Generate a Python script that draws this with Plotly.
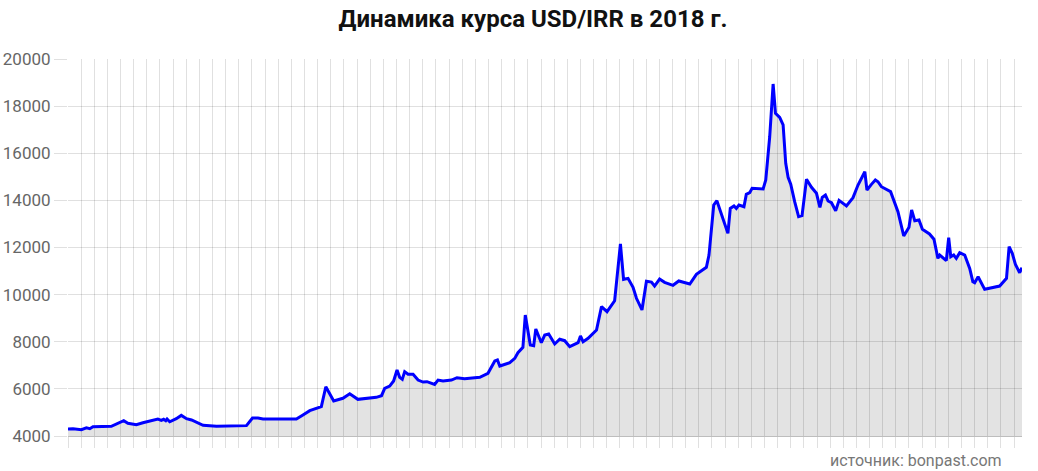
import plotly.graph_objects as go

# Day index within the period (grid every 5 days) and USD/IRR rate
days = [0, 1.9, 5.1, 7.0, 8.3, 9.5, 16.5, 19.0, 21.2, 22.8, 26.0, 28.5, 32.3, 34.2, 35.5, 36.4, 37.2, 37.7,
        38.7, 41.2, 43.1, 45.1, 47.0, 51.4, 56.5, 67.9, 70.2, 72.3, 74.2, 86.9, 89.4, 92.0, 96.4, 98.1,
        101.1, 104.6, 107.2, 110.3, 117.3, 119.3, 120.5, 122.4, 123.9, 125.2, 126.2, 127.2, 128.1, 129.4,
        131.3, 133.2, 135.1, 136.6, 139.5, 140.8, 142.7, 145.9, 148.0, 150.9, 156.7, 159.8, 162.4, 163.4,
        164.3, 168.1, 170.0, 171.2, 173.1, 174.0, 175.9, 177.2, 178.0, 180.1, 181.4, 182.9, 185.2, 187.1,
        189.0, 190.9, 194.1, 195.0, 196.0, 197.9, 201.1, 203.0, 205.1, 208.0, 210.2, 211.4, 213.1, 215.0,
        216.3, 218.4, 220.1, 222.0, 223.2, 225.1, 227.0, 230.2, 232.4, 236.6, 239.1, 242.9, 243.9, 245.7,
        246.9, 251.1, 252.0, 253.4, 254.3, 255.3, 257.2, 258.1, 259.4, 260.3, 264.5, 265.5, 267.0, 268.3,
        269.2, 270.8, 272.1, 273.1, 274.0, 275.0, 276.5, 278.0, 279.3, 281.0, 282.9, 284.8, 286.1, 287.0,
        288.2, 289.2, 290.5, 292.1, 293.4, 296.2, 298.7, 300.6, 303.2, 304.0, 305.7, 307.2, 308.2, 309.5,
        313.0, 314.3, 315.8, 318.0, 320.0, 321.0, 322.2, 323.8, 325.1, 327.8, 329.5, 331.0, 331.7, 334.2,
        335.1, 335.9, 337.0, 338.0, 339.3, 341.2, 343.1, 344.3, 345.0, 346.3, 348.8, 354.5, 357.1, 358.1,
        359.3, 360.5, 362.1, 363.0]
rates = [4300, 4310, 4270, 4350, 4310, 4395, 4410, 4520, 4650, 4540, 4480, 4565, 4650, 4720, 4665, 4710, 4650, 4720,
         4605, 4735, 4875, 4735, 4680, 4455, 4410, 4440, 4765, 4765, 4720, 4720, 4890, 5075, 5245, 6090,
         5485, 5600, 5790, 5555, 5640, 5710, 6025, 6120, 6335, 6800, 6490, 6405, 6730, 6620,
         6620, 6375, 6290, 6305, 6190, 6375, 6335, 6375, 6475, 6430, 6490, 6660, 7185, 7225,
         6970, 7110, 7295, 7535, 7765, 9135, 7860, 7830, 8540, 7960, 8285, 8330, 7905, 8105,
         8045, 7790, 7960, 8245, 8000, 8145, 8500, 9490, 9275, 9740, 12150, 10650, 10690, 10310,
         9845, 9350, 10570, 10535, 10365, 10660, 10520, 10395, 10580, 10450, 10860, 11160, 11680, 13800,
         13985, 12600, 13660, 13760, 13660, 13800, 13730, 14255, 14325, 14510, 14485, 14865, 16700, 18940,
         17695, 17520, 17200, 15575, 14980, 14685, 13945, 13310, 13350, 14895, 14555, 14300, 13705, 14130,
         14230, 13975, 13900, 13560, 14000, 13760, 14115, 14650, 15215, 14440, 14680, 14865, 14790, 14580,
         14370, 13945, 13520, 12490, 12855, 13590, 13135, 13165, 12770, 12575, 12350, 11540, 11680, 11440,
         12415, 11610, 11680, 11540, 11780, 11680, 11115, 10550, 10505, 10760, 10225, 10365, 10690, 12035,
         11750, 11285, 10930, 11140]
y_ticks = [4000, 6000, 8000, 10000, 12000, 14000, 16000, 18000, 20000]

title_text = "Динамика курса USD/IRR в 2018 г."
source_text = "источник: bonpast.com"

fig = go.Figure()
fig.add_trace(go.Scatter(
    x=days, y=rates, mode="lines",
    line=dict(color="#0000ff", width=3),
    fill="tozeroy", fillcolor="rgba(0,0,0,0.11)",
    hoverinfo="x+y",
))

grid_c = "rgba(0,0,0,0.12)"
fig.update_layout(
    width=1038, height=471,
    margin=dict(l=68, r=16, t=59, b=35),
    paper_bgcolor="white", plot_bgcolor="white",
    showlegend=False,
    font=dict(family="Roboto, sans-serif"),
    title=dict(text=title_text, x=0.5135, xanchor="center", y=0.96, yanchor="middle",
               font=dict(family="Roboto", size=24, color="#111", weight="bold")),
    xaxis=dict(range=[0, 363], tick0=0, dtick=5, showgrid=True, gridcolor=grid_c, gridwidth=1,
               showticklabels=False, ticks="outside", ticklen=11, tickcolor=grid_c, tickwidth=1,
               showline=True, linecolor="#bdbdbd", linewidth=1, zeroline=False),
    yaxis=dict(range=[4000, 20000], tickvals=y_ticks, tickformat="d", showgrid=True, gridcolor=grid_c,
               gridwidth=1, ticks="outside", ticklen=13, tickcolor=grid_c, tickwidth=1,
               tickfont=dict(family="Roboto", size=17, color="#666"), automargin=False,
               showline=False, zeroline=False, ticklabelstandoff=0),
    annotations=[dict(text=source_text, xref="paper", yref="paper", x=0.981, y=-0.064,
                      xanchor="right", yanchor="middle", showarrow=False,
                      font=dict(family="Roboto", size=16, color="#777"))],
)

fig.write_html("out.html", config={"displayModeBar": False},
               post_script="document.body.style.margin='0px';")
